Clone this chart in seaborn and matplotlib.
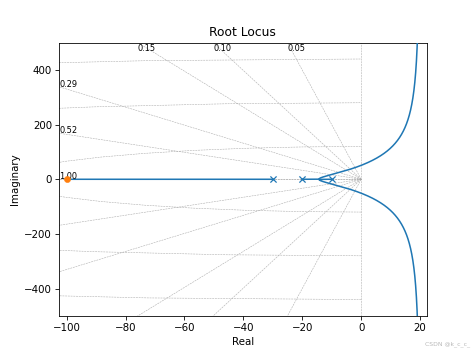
"""
Root locus de G(s) = (s + 100) / ((s + 10)(s + 20)(s + 30)) con rejilla s-plane.
"""

import numpy as np
import matplotlib
matplotlib.use("Agg")
import matplotlib.pyplot as plt
import seaborn as sns

# Polos y ceros del sistema
poles = [-10.0, -20.0, -30.0]
zeros = [-100.0]

# Ganancias evaluadas para trazar el lugar
gains = np.concatenate([[0.0], np.logspace(-3, 6, 3000)])

# Rejilla: razones de amortiguamiento y radios de frecuencia natural
zeta_vals = [0.05, 0.10, 0.15, 0.29, 0.52, 1.00]
wn_vals = [120, 280, 440, 600]

x_lim = (-102.5, 22.2)
y_lim = (-500, 500)

# Estilo matplotlib por defecto (sin tema seaborn)
plt.rcdefaults()

fig, ax = plt.subplots(figsize=(474 / 74, 355 / 74), dpi=74)
fig.subplots_adjust(left=0.125, right=0.9, bottom=0.11, top=0.88)

# --- lugar de raíces: raíces de den(s) + k*num(s) ---
den = np.poly(poles)
num = np.poly(zeros)
num_full = np.concatenate([np.zeros(len(den) - len(num)), num])

branches = []
prev = None
for k in gains:
    r = np.roots(den + k * num_full)
    if prev is not None:
        ordered = []
        left = list(r)
        for p in prev:
            idx = int(np.argmin([abs(p - q) for q in left]))
            ordered.append(left.pop(idx))
        r = np.array(ordered)
    else:
        r = np.sort_complex(r)
    branches.append(r)
    prev = r
branches = np.array(branches)

for i in range(branches.shape[1]):
    sns.lineplot(x=branches[:, i].real, y=branches[:, i].imag, sort=False,
                 estimator=None, color='C0', linewidth=1.5, ax=ax, zorder=3)

sns.scatterplot(x=poles, y=np.zeros(len(poles)), marker='x', color='C0',
                s=36, linewidth=1.2, ax=ax, zorder=4)
sns.scatterplot(x=zeros, y=np.zeros(len(zeros)), marker='o', color='C1',
                s=36, edgecolor='C1', ax=ax, zorder=5)

# --- rejilla de amortiguamiento ---
ax.set_xlim(x_lim)
ax.set_ylim(y_lim)
grid_kw = dict(color='#a8a8a8', linestyle='dashed', linewidth=0.5, zorder=1)
x_end = -120
ytext_lim = y_lim[1] - (y_lim[1] - y_lim[0]) * 0.03
for z in zeta_vals:
    yp = np.tan(np.pi / 2 + np.arcsin(z))
    ax.plot([0, x_end], [0, yp * x_end], **grid_kw)
    ax.plot([0, x_end], [0, -yp * x_end], **grid_kw)
    xt = y_lim[1] / yp if yp != 0 else -np.inf
    yt = yp * x_lim[0]
    if abs(xt) > abs(x_lim[0]):
        xt = x_lim[0]
    else:
        yt = ytext_lim
    ax.annotate("%.2f" % z, xy=(xt, yt), textcoords='data', fontsize=8)

ax.plot([0, 0], list(y_lim), **grid_kw)

angles = np.linspace(-90, 90, 20) * np.pi / 180
for wn in wn_vals:
    ax.plot(-np.cos(angles) * wn, np.sin(angles) * wn, **grid_kw)

ax.set_xlim(x_lim)
ax.set_ylim(y_lim)
ax.set_title('Root Locus')
ax.set_xlabel('Real')
ax.set_ylabel('Imaginary')

fig.text(0.992, 0.022, 'CSDN @k_c_c_', fontsize=6, color='#b8b8b8',
         ha='right', va='bottom')

fig.savefig('out.png', dpi=74)
